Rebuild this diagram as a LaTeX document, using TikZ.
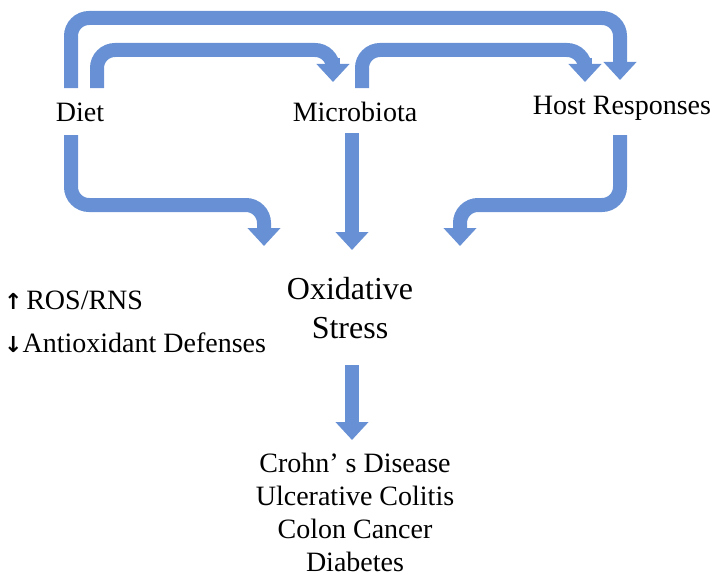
\documentclass[tikz,border=0pt]{standalone}
\usepackage{fontspec}
\setmainfont{Liberation Serif}
\usetikzlibrary{arrows.meta}
\definecolor{band}{RGB}{104,144,212}
\begin{document}
\begin{tikzpicture}[x=1pt,y=-1pt,
  flow/.style={line width=14pt,draw=band,rounded corners=18pt},
  tip/.style={line width=14pt,draw=band,-{Triangle[width=32pt,length=18pt]}},
  lbl/.style={font=\fontsize{28}{33}\selectfont,inner sep=0pt},
  big/.style={font=\fontsize{32}{37}\selectfont,inner sep=0pt,align=center}]
\useasboundingbox (0,0) rectangle (720,578);
\node[lbl] (diet) at (80,112) {Diet};
\node[lbl] (micro) at (355,112) {Microbiota};
\node[lbl] (host) at (622,108) {Host Responses};
\node[big] (ox) at (350,308) {Oxidative\\[2pt]Stress};
\node[lbl,anchor=west] (ros) at (4,300) {\fontspec{DejaVu Sans}\fontsize{22}{24}\selectfont\textbf{↑}\,\fontspec{Liberation Serif}\fontsize{28}{33}\selectfont ROS/RNS};
\node[lbl,anchor=west] (anti) at (4,343) {\fontspec{DejaVu Sans}\fontsize{22}{24}\selectfont\textbf{↓}\fontspec{Liberation Serif}\fontsize{28}{33}\selectfont Antioxidant Defenses};
\node[lbl,align=center] (dis) at (355,512) {Crohn’ s Disease\\[0pt]Ulcerative Colitis\\[0pt]Colon Cancer\\[0pt]Diabetes};
\coordinate (d1) at (71,88); \coordinate (d2) at (97,88);
\coordinate (m1) at (362,88);
\draw[flow] (d1) -- (71,18) -- (620,18) -- (620,62);
\draw[tip] (620,56) -- (620,80);
\draw[flow] (d2) -- (97,50) -- (333,50) -- (333,64);
\draw[tip] (333,58) -- (333,82);
\draw[flow] (m1) -- (362,50) -- (585,50) -- (585,64);
\draw[tip] (585,58) -- (585,82);
\draw[flow] (71,135) -- (71,205) -- (264,205) -- (264,228);
\draw[tip] (264,222) -- (264,246);
\draw[flow] (352,133) -- (352,232);
\draw[tip] (352,226) -- (352,250);
\draw[flow] (620,135) -- (620,205) -- (460,205) -- (460,228);
\draw[tip] (460,222) -- (460,246);
\draw[flow] (352,365) -- (352,420);
\draw[tip] (352,414) -- (352,440);
\end{tikzpicture}
\end{document}
